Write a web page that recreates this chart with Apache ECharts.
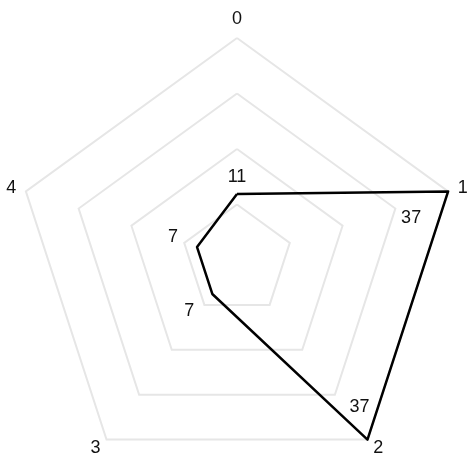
<!DOCTYPE html>
<html>
<head>
<meta charset="utf-8">
<script src="https://cdn.jsdelivr.net/npm/echarts@6/dist/echarts.min.js"></script>
<style>html,body{margin:0;padding:0;background:#fff}#main{width:474px;height:460px}</style>
</head>
<body>
<div id="main"></div>
<script>
//ECharts雷达图按逆时针排列，所以顺序为 0,4,3,2,1
var indicatorNames = ['0', '4', '3', '2', '1'];
var values = [11, 7, 7, 37, 37];
var maxValue = 37;
//每个标签相对点的偏移
var labelOffsets = [[0, -17], [-24, -10], [-23, 17], [-8, -33], [-37, 27]];

var myChart = echarts.init(document.getElementById('main'));

var indicator = indicatorNames.map(function(n) {
    return { name: n, max: maxValue, min: 0 };
});

var series = [{
    type: 'radar',
    symbol: 'none',
    lineStyle: { color: '#000', width: 2.5 },
    data: [{ value: values }],
    z: 3
}];
//标签用透明系列逐个显示
for (var k = 0; k < values.length; k++) {
    (function(k) {
        series.push({
            type: 'radar',
            symbol: 'circle',
            symbolSize: 1,
            itemStyle: { color: 'transparent' },
            lineStyle: { opacity: 0 },
            label: {
                show: true,
                position: 'inside',
                offset: labelOffsets[k],
                color: '#111',
                fontSize: 18,
                fontFamily: 'Liberation Sans',
                formatter: function(p) {
                    return p.dimensionIndex === k ? String(values[k]) : '';
                }
            },
            data: [{ value: values }],
            z: 4
        });
    })(k);
}

var option = {
    animation: false,
    radar: {
        center: [237, 260],
        radius: 222,
        startAngle: 90,
        splitNumber: 4,
        shape: 'polygon',
        indicator: indicator,
        axisName: { color: '#111', fontSize: 18, fontFamily: 'Liberation Sans' },
        nameGap: 10,
        splitLine: { lineStyle: { color: '#e6e6e6', width: 2 } },
        splitArea: { show: false },
        axisLine: { show: false },
        axisTick: { show: false }
    },
    series: series
};
myChart.setOption(option);
</script>
</body>
</html>
